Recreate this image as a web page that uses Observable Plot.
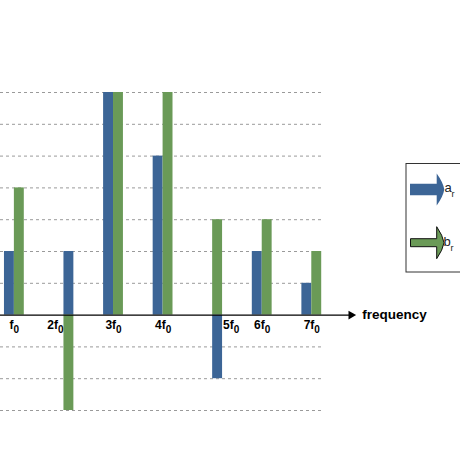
<!DOCTYPE html>
<html>
<head>
<meta charset="utf-8">
<script src="https://cdn.jsdelivr.net/npm/d3@7"></script>
<script src="https://cdn.jsdelivr.net/npm/@observablehq/plot@0.6"></script>
<style>
  html, body { margin: 0; padding: 0; background: #fff; }
  #chart svg { display: block; }
</style>
</head>
<body>
<div id="chart"></div>
<script>
// ---- data ----
const harmonics = [1, 2, 3, 4, 5, 6, 7];
const tickLabels = ["f", "2f", "3f", "4f", "5f", "6f", "7f"];
const tickSubscript = "0";
const aValues = [2, 2, 7, 5, -2, 2, 1];   // a_r (blue)
const bValues = [4, -3, 7, 7, 3, 3, 2];   // b_r (green)
const gridValues = [-3, -2, -1, 1, 2, 3, 4, 5, 6, 7];
const seriesNames = ["a", "b"];
const legendSub = "r";
const axisTitle = "frequency";

// ---- layout constants ----
const blue = "#3c6596", green = "#6a9a57";
const xDomain = [0.72, 10.0];
const barW = 0.2;
const gridEnd = 7.236;
const axisEnd = 7.882;
const titleX = 8.017;
const font = "'Liberation Sans', Arial, sans-serif";

// bars: side by side when same sign, sharing one column when opposite sign
const isSplit = i => Math.sign(aValues[i]) !== Math.sign(bValues[i]);
const rows = harmonics.flatMap((n, i) => {
  const s = isSplit(i);
  return [
    {series: "a", v: aValues[i], x1: s ? n : n - barW, x2: s ? n + barW : n},
    {series: "b", v: bValues[i], x1: n, x2: n + barW}
  ];
});

// harmonic labels: move away from a negative bar
const labels = harmonics.map((n, i) => {
  const text = tickLabels[i] + tickSubscript;
  if (!isSplit(i)) return {x: n, text, anchor: "middle"};
  if (bValues[i] < 0) return {x: n, text, anchor: "end"};
  return {x: n + barW, text, anchor: "start"};
});
const labelMark = anchor => Plot.text(labels.filter(d => d.anchor === anchor), {
  x: "x", y: 0, text: "text", textAnchor: anchor, dx: anchor === "end" ? -0.5 : anchor === "start" ? 0.5 : 0,
  dy: 10, fontWeight: "bold", fontSize: 12, fill: "black", className: "harm"
});

const chart = Plot.plot({
  width: 460,
  height: 460,
  marginTop: 92,
  marginBottom: 50,
  marginLeft: 0,
  marginRight: 0,
  style: {fontFamily: font, background: "white"},
  x: {domain: xDomain, axis: null},
  y: {domain: [-3, 7], axis: null},
  color: {domain: seriesNames, range: [blue, green]},
  marks: [
    Plot.ruleY(gridValues, {x1: xDomain[0], x2: gridEnd, stroke: "#9a9a9a", strokeWidth: 1, strokeDasharray: "3,3"}),
    Plot.rectY(rows, {x1: "x1", x2: "x2", y1: 0, y2: "v", fill: "series"}),
    Plot.ruleY([0], {x1: xDomain[0], x2: axisEnd - 0.05, stroke: "black", strokeWidth: 1.4}),
    Plot.dot([0], {x: axisEnd - 0.09, y: 0, symbol: "triangle2", r: 4.2, rotate: 90, fill: "black", stroke: "none"}),
    labelMark("middle"),
    labelMark("end"),
    labelMark("start"),
    Plot.text([axisTitle], {
      x: titleX, y: 0, text: d => d, textAnchor: "start",
      fontWeight: "bold", fontSize: 13.5, fill: "black"
    })
  ]
});

document.getElementById("chart").appendChild(chart);

// subscripts on harmonic labels
d3.select(chart).selectAll(".harm text").each(function () {
  const t = this.textContent;
  const main = t.slice(0, -1), sub = t.slice(-1);
  const sel = d3.select(this);
  sel.text(null);
  sel.append("tspan").text(main);
  sel.append("tspan").attr("dy", 4).attr("font-size", 10).text(sub);
});

// legend (decoration)
const svg = d3.select(chart);
const lg = svg.append("g").attr("font-family", font);
lg.append("rect").attr("x", 406).attr("y", 163.5).attr("width", 70).attr("height", 108.5)
  .attr("fill", "white").attr("stroke", "#333").attr("stroke-width", 1);
function arrowPath(x0, yc, shaftH, headH, shaftEnd, tip) {
  const top = yc - headH / 2, bot = yc + headH / 2, len = tip - shaftEnd;
  return `M${x0},${yc - shaftH / 2}L${shaftEnd},${yc - shaftH / 2}L${shaftEnd},${top}` +
    `Q${shaftEnd + len * 0.85},${yc - headH * 0.22} ${tip},${yc}` +
    `Q${shaftEnd + len * 0.85},${yc + headH * 0.22} ${shaftEnd},${bot}` +
    `L${shaftEnd},${yc + shaftH / 2}L${x0},${yc + shaftH / 2}Z`;
}
lg.append("path").attr("d", arrowPath(410, 189.5, 11.5, 32, 436.7, 444.3)).attr("fill", blue);
lg.append("path").attr("d", arrowPath(410.5, 242.7, 8, 32, 436.7, 444)).attr("fill", green)
  .attr("stroke", "#111").attr("stroke-width", 1);
[[seriesNames[0], 449.5, 192], [seriesNames[1], 448.5, 246]].forEach(([name, x, y]) => {
  const t = lg.append("text").attr("x", x).attr("y", y).attr("font-size", 13).attr("fill", "#222");
  t.append("tspan").text(name);
  t.append("tspan").attr("dy", 4.5).attr("font-size", 9).text(legendSub);
});
</script>
</body>
</html>
